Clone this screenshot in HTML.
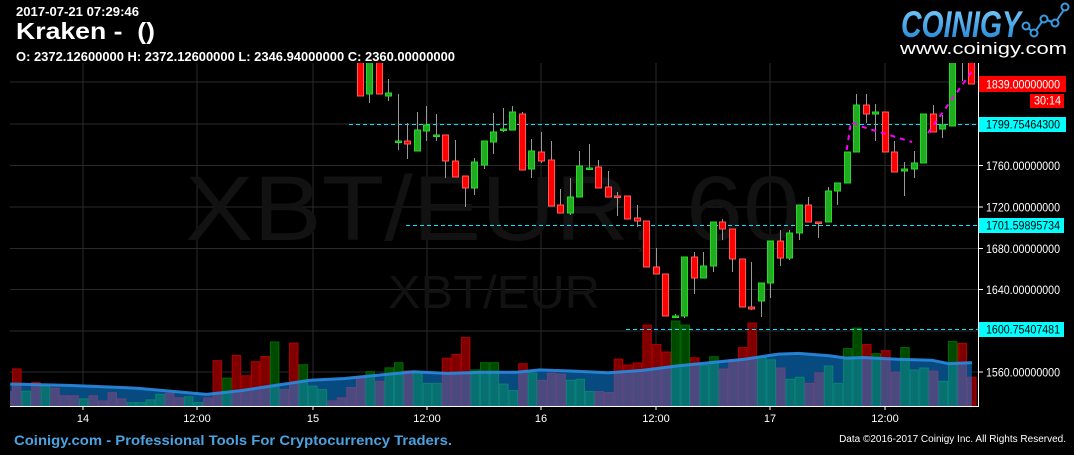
<!DOCTYPE html>
<html><head><meta charset="utf-8"><style>
html,body{margin:0;padding:0;background:#000;width:1074px;height:455px;overflow:hidden}
svg{display:block}
text{font-family:"Liberation Sans",Arial,sans-serif}
</style></head><body>
<svg id="s" width="1074" height="455" xmlns="http://www.w3.org/2000/svg">
<defs>
<linearGradient id="lg" x1="0" y1="0" x2="0" y2="1"><stop offset="0" stop-color="#7fd0ff"/><stop offset="1" stop-color="#1a7fd0"/></linearGradient>
<clipPath id="plot"><rect x="10" y="63" width="968" height="343"/></clipPath>
</defs>
<rect width="1074" height="455" fill="#000"/>
<g id="grid" stroke="#2a2a2a" stroke-width="1"></g>
<text x="185" y="240" font-size="92" fill="#121212" textLength="615" lengthAdjust="spacingAndGlyphs">XBT/EUR, 60</text>
<text x="388" y="308" font-size="46" fill="#121212" textLength="212" lengthAdjust="spacingAndGlyphs">XBT/EUR</text>
<g id="vol"></g>
<g id="dash"></g>
<g id="candles" clip-path="url(#plot)"></g>
<polyline points="846.7,150 851,122 863,127 912,142" fill="none" stroke="#ff00ff" stroke-width="2" stroke-dasharray="5,5"/>
<polyline points="928,133 975,67" fill="none" stroke="#ff00ff" stroke-width="2" stroke-dasharray="5,5"/>
<line x1="978.5" y1="63" x2="978.5" y2="407" stroke="#fff"/>
<line x1="10" y1="406.5" x2="978" y2="406.5" stroke="#fff"/>
<g id="axis" font-size="11.5" fill="#fff"></g>
<text x="16" y="16" font-size="13" font-weight="bold" fill="#fff" textLength="123" lengthAdjust="spacingAndGlyphs">2017-07-21 07:29:46</text>
<text x="16" y="39" font-size="23" font-weight="bold" fill="#fff" textLength="139" lengthAdjust="spacingAndGlyphs">Kraken -&#160;&#160;()</text>
<text x="16" y="61" font-size="12.5" font-weight="bold" fill="#fff" textLength="439" lengthAdjust="spacingAndGlyphs">O: 2372.12600000 H: 2372.12600000 L: 2346.94000000 C: 2360.00000000</text>
<text x="901" y="37" font-size="37" font-weight="bold" font-style="italic" fill="url(#lg)" textLength="120" lengthAdjust="spacingAndGlyphs">COINIGY</text>
<g stroke="#3a9ae0" stroke-width="2" fill="#000">
<polyline points="1026,26 1034,33 1044,19 1055,23 1065,8" fill="none"/>
<circle cx="1026" cy="26" r="3.5"/><circle cx="1034" cy="33" r="3.5"/><circle cx="1044" cy="19" r="3.5"/><circle cx="1055" cy="23" r="3.5"/><circle cx="1065" cy="7" r="3.5"/>
</g>
<text x="900" y="54" font-size="17" fill="#fff" textLength="167" lengthAdjust="spacingAndGlyphs">www.coinigy.com</text>
<text x="14" y="445" font-size="14" font-weight="bold" fill="#4aa3e0" textLength="438" lengthAdjust="spacingAndGlyphs">Coinigy.com - Professional Tools For Cryptocurrency Traders.</text>
<text x="1066" y="442" font-size="10" fill="#fff" text-anchor="end">Data ©2016-2017 Coinigy Inc. All Rights Reserved.</text>
</svg>
<script>
var NS="http://www.w3.org/2000/svg";
function el(p,t,a,txt){var e=document.createElementNS(NS,t);for(var k in a)e.setAttribute(k,a[k]);if(txt!==undefined)e.textContent=txt;document.getElementById(p).appendChild(e);return e;}
[82,124,165.5,207,248.5,289.5,331,372].forEach(function(y){el('grid','line',{x1:10,x2:978,y1:y,y2:y});});
[83,197,313,427,541,656,770,885].forEach(function(x){el('grid','line',{x1:x,x2:x,y1:63,y2:406});});
var xl=[[83,'14'],[197,'12:00'],[313,'15'],[427,'12:00'],[541,'16'],[656,'12:00'],[770,'17'],[885,'12:00']];
xl.forEach(function(a){el('axis','line',{x1:a[0],x2:a[0],y1:406,y2:410,stroke:'#fff'});el('axis','text',{x:a[0],y:422,'text-anchor':'middle','font-size':11},a[1]);});
function lab(x,y,t,col){el('axis','text',{x:x,y:y,fill:col||'#fff',textLength:74,lengthAdjust:'spacingAndGlyphs'},t);}
[[165.5,'1760.00000000'],[207,'1720.00000000'],[248.5,'1680.00000000'],[289.5,'1640.00000000'],[372,'1560.00000000']].forEach(function(a){
el('axis','line',{x1:978,x2:983,y1:a[0],y2:a[0],stroke:'#fff'});lab(986,a[0]+4.5,a[1]);});
function box(y1,h,x1,w,fill,txt,col,tx,tl){el('axis','rect',{x:x1,y:y1,width:w,height:h,fill:fill});el('axis','text',{x:tx,y:y1+h-3.5,fill:col,textLength:tl,lengthAdjust:'spacingAndGlyphs'},txt);}
box(76,16,979,87,'#ff0000','1839.00000000','#fff',986,74);
box(94,14,1030,34,'#ff0000','30:14','#fff',1034,27);
box(117,15,979,87,'#00ffff','1799.75464300','#000',986,74);
box(218,15,979,85,'#00ffff','1701.59895734','#000',986,74);
box(322,15,979,85,'#00ffff','1600.75407481','#000',986,74);
[[349,124],[406,225],[626,329]].forEach(function(a){el('dash','line',{x1:a[0],x2:978,y1:a[1]+.5,y2:a[1]+.5,stroke:'#00e5ff','stroke-dasharray':'4,3'});});
var v1="r142 g207 r181 g190 r198 r220 r220 g229 r220 r235 r211 r229 g240 g240 g232 g216 r213 r226 g223 g240 r226 r118 g169 r103 r162 r121 r106 g64 r202 r67 g130 g192 g202 r235 r226 r196 r164 g150 r178 g139 g124 r148 g150 g184 g184 r111 r100 r51 g145 g124 g124 g186 g205 r127 g154".split(' ');
var v2="r177 r156 r159 g177 g174 g210 r210 r213 r115 r132 r126 r15 r72 r94 g3 g15 r111 g133 g108 r144 r117 r81 r9 g109 g117 r141 g174 g168 r186 r155 g135 g186 g84 g24 r72 g99 r90 r153 g81 g147 g141 r150 g180 g63 r69 r168".split(' ');
var bars=[];
v1.forEach(function(s){bars.push([s[0],parseFloat(s.slice(1))/2.904+320]);});
v2.forEach(function(s){bars.push([s[0],parseFloat(s.slice(1))/2.936+320]);});
var base=406;
var ma1=[[30,186],[200,190],[400,198],[600,216],[700,205],[800,190],[900,175],[1000,170],[1100,160],[1200,150],[1300,155],[1400,152],[1500,152],[1568,145]];
var ma2=[[100,150],[200,155],[300,148],[400,135],[500,125],[600,115],[700,100],[760,98],[850,105],[900,112],[950,110],[1050,115],[1150,118],[1200,128],[1268,125]];
var pts=[];ma1.forEach(function(p){pts.push([p[0]/2.904,p[1]/2.904+320]);});ma2.forEach(function(p){pts.push([p[0]/2.936+540,p[1]/2.936+320]);});
var ps=pts.map(function(p){return p[0].toFixed(1)+','+p[1].toFixed(1);}).join(' ');
var cp=document.createElementNS(NS,'clipPath');cp.setAttribute('id','ma');var pg=document.createElementNS(NS,'polygon');
pg.setAttribute('points',pts[0][0].toFixed(1)+','+base+' '+ps+' '+pts[pts.length-1][0].toFixed(1)+','+base);cp.appendChild(pg);document.querySelector('defs').appendChild(cp);
el('vol','polygon',{points:pg.getAttribute('points'),fill:'#064a80'});
bars.forEach(function(b,i){var x=12.05+i*9.55;var red=b[0]=='r';
el('vol','rect',{x:x+.5,y:b[1],width:8.5,height:base-b[1],fill:red?'#800000':'#004a00',stroke:red?'#b00000':'#006a00','stroke-width':1});});
el('vol','rect',{x:10,y:391,width:2,height:15,fill:'#4a4a7e'});
var g=el('vol','g',{'clip-path':'url(#ma)'});
bars.forEach(function(b,i){var x=12.05+i*9.55;var red=b[0]=='r';
var r=document.createElementNS(NS,'rect');r.setAttribute('x',x+.5);r.setAttribute('y',b[1]);r.setAttribute('width',8.5);r.setAttribute('height',base-b[1]);r.setAttribute('fill',red?'#4a4a7e':'#087070');r.setAttribute('stroke',red?'#5a4a8a':'#0a8080');g.appendChild(r);});
el('vol','polyline',{points:ps,fill:'none',stroke:'#2a8ae0','stroke-width':3,opacity:.9});
var C=[[357,60,96,'r'],[366,60,94,'g',60,103],[376,60,94,'r'],[385,93,96,'g',79,101],[395,141,141,'g',94,150],[404,141,144,'r',123,159],[414,130,151,'g',112,151],[423,125,131,'g',106,141],[433,135,135,'g',114,141],[442,135,161,'r',135,178],[452,161,177,'r',140,177],[462,176,188,'r',176,207],[471,162,188,'g',158,195],[481,141,165,'g',141,169],[490,132,142,'g',113,154],[500,129,129,'g',108,132],[509,112,130,'g',106,130],[519,114,170,'r',112,170],[528,151,169,'g',139,178],[538,152,161,'r',132,163],[548,160,206,'r',141,206],[557,205,213,'r',189,213],[567,197,213,'g',178,215],[576,166,197,'g',151,197],[586,168,168,'g',144,168],[595,167,188,'r',160,188],[605,187,197,'r',171,197],[614,196,196,'r',192,216],[624,196,219,'r',196,219],[634,218,221,'r',205,227],[643,221,267,'r'],[653,267,274,'r',248,274],[662,274,316,'r'],[672,316,316,'g',314,318],[681,257,316,'g',257,318],[691,257,278,'r',252,294],[700,266,278,'g',252,278],[710,222,266,'g',222,272],[719,222,229,'r',219,240],[729,229,259,'r',229,272],[739,259,307,'r'],[748,307,309,'r',262,310],[758,283,301,'g',283,317],[767,241,283,'g',241,298],[777,241,258,'r',230,266],[786,233,258,'g',230,260],[796,205,233,'g',205,240],[805,205,222,'r',197,222],[815,222,222,'r',222,238],[825,191,222,'g',187,222],[834,183,191,'g',183,205],[844,152,183,'g'],[853,105,152,'g',94,152],[863,105,114,'r',94,123],[872,112,114,'g',104,141],[882,112,152,'r'],[891,152,172,'r',141,172],[901,169,171,'g',162,196],[911,163,169,'g',151,178],[920,114,163,'g'],[930,114,132,'r',105,132],[939,125,129,'g',115,138],[949,60,126,'g'],[959,60,62,'g',60,81],[968,60,84,'r']];
C.forEach(function(c){var red=c[3]=='r';var cx=c[0]+3.5;var wt=c[4]!==undefined?c[4]:c[1],wb=c[5]!==undefined?c[5]:c[2];
el('candles','line',{x1:cx,x2:cx,y1:wt,y2:wb,stroke:'#999'});
var h=Math.max(c[2]-c[1],1.5);
el('candles','rect',{x:c[0]+.5,y:c[1],width:6,height:h,fill:red?'#ff0000':'#22aa22',stroke:red?'#ff5a5a':'#22dd22','stroke-width':1});});
</script>
</body></html>
